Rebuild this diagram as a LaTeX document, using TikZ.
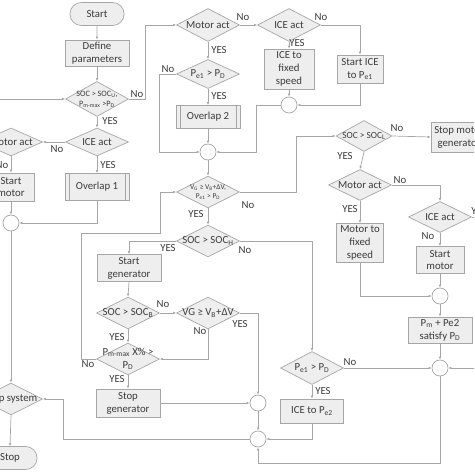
\documentclass[tikz,border=0pt]{standalone}
\usepackage{fontspec}
\setmainfont{Carlito}
\usetikzlibrary{shapes.geometric,shapes.misc,arrows.meta}
\definecolor{boxfill}{HTML}{EEEEEE}
\definecolor{boxline}{HTML}{A6A6A6}
\definecolor{flowline}{HTML}{A6A6A6}
\definecolor{inktext}{HTML}{3C3C3C}
\newdimen\px
\px=0.3mm

\begin{document}
\begin{tikzpicture}[x=0.3mm, y=-0.3mm,
  every node/.style={text=inktext, font=\fontsize{9.2}{11}\selectfont},
  procbox/.style={rectangle, draw=boxline, fill=boxfill, align=center, minimum width=64\px, minimum height=26\px, inner sep=1pt, line width=0.6pt},
  overlap/.style={procbox, path picture={\draw[boxline, line width=0.6pt] ([xshift=4\px]path picture bounding box.north west) -- ([xshift=4\px]path picture bounding box.south west) ([xshift=-4\px]path picture bounding box.north east) -- ([xshift=-4\px]path picture bounding box.south east);}},
  terminal/.style={rounded rectangle, draw=boxline, fill=boxfill, minimum width=62\px, minimum height=23\px, line width=0.6pt},
  decision/.style={diamond, aspect=2, draw=boxline, fill=boxfill, align=center, inner sep=-5pt, minimum width=63\px, minimum height=32\px, line width=0.6pt},
  junction/.style={circle, draw=boxline, fill=white, minimum size=16\px, inner sep=0pt, line width=0.6pt},
  flow/.style={draw=flowline, line width=0.6pt, -{Latex[length=2.6pt, width=2.2pt]}},
  yesno/.style={inner sep=0pt}
]
\useasboundingbox (0,0) rectangle (474,474);
\clip (0,0) rectangle (474,474);

% left column
\node (start) [terminal] at (97,14) {Start};
\node (define) [procbox] at (97,53) {Define\\parameters};
\node (socU) [decision, minimum height=35\px, font=\fontsize{7}{8.5}\selectfont] at (97,99) {SOC > SOC\textsubscript{U},\\P\textsubscript{m-max} >P\textsubscript{D}};
\node (iceA) [decision, minimum height=28\px] at (97,142) {ICE act};
\node (motA) [decision, minimum height=28\px] at (11,142) {Motor act};
\node (stmotA) [procbox, minimum width=46\px, minimum height=28\px] at (11,187) {Start\\motor};
\node (ovl1) [overlap, minimum height=27\px] at (97,187) {Overlap 1};
\node (jA) [junction] at (11,223) {};
\node (stopsys) [decision] at (11,399) {Stop system};
\node (stop) [terminal] at (10,458) {Stop};

% middle column
\node (motB) [decision, minimum height=33\px] at (208,25) {Motor act};
\node (pe1B) [decision, minimum height=29\px] at (208,74) {P\textsubscript{e1} > P\textsubscript{D}};
\node (ovl2) [overlap, minimum height=23\px] at (208,117) {Overlap 2};
\node (jB) [junction] at (208,152) {};
\node (iceB) [decision, minimum height=33\px] at (289,25) {ICE act};
\node (icefix) [procbox, minimum width=50\px, minimum height=40\px] at (289,69) {ICE to\\fixed\\speed};
\node (jC) [junction] at (289,105) {};
\node (stice) [procbox, minimum width=46\px, minimum height=28\px] at (360,69) {Start ICE\\to P\textsubscript{e1}};
\node (vgA) [decision, font=\fontsize{6.3}{7.8}\selectfont] at (208,192) {V\textsubscript{G} ≥ V\textsubscript{B}+ΔV,\\P\textsubscript{e1} > P\textsubscript{D}};
\node (socH) [decision] at (208,241) {SOC > SOC\textsubscript{H}};
\node (stgen) [procbox, minimum height=27\px] at (129,268) {Start\\generator};
\node (socB) [decision] at (128,313) {SOC > SOC\textsubscript{B}};
\node (vgB) [decision] at (208,313) {VG ≥ V\textsubscript{B}+ΔV};
\node (pmax) [decision] at (128,359) {P\textsubscript{m-max} X\% >\\P\textsubscript{D}};
\node (spgen) [procbox, minimum height=28\px] at (128,403) {Stop\\generator};
\node (jD) [junction] at (258,403) {};
\node (jE) [junction] at (258,439) {};
\node (pe1C) [decision, minimum height=33\px] at (312,368) {P\textsubscript{e1} > P\textsubscript{D}};
\node (icepe2) [procbox, minimum width=63\px, minimum height=24\px] at (312,411) {ICE to P\textsubscript{e2}};

% right column
\node (socL) [decision, minimum width=56\px, minimum height=31\px, font=\fontsize{8}{9.5}\selectfont] at (364,136) {SOC > SOC\textsubscript{L}};
\node (stopmg) [procbox, minimum width=56\px, minimum height=30\px] at (459,137) {Stop motor\\generator};
\node (motC) [decision, minimum height=31\px] at (360,185) {Motor act};
\node (motfix) [procbox, minimum width=47\px, minimum height=39\px] at (360,243) {Motor to\\fixed\\speed};
\node (iceC) [decision, minimum height=31\px] at (440,217) {ICE act};
\node (stmotC) [procbox, minimum width=48\px, minimum height=27\px] at (440,260) {Start\\motor};
\node (jF) [junction] at (440,296) {};
\node (satis) [procbox, minimum height=26\px] at (440,330) {P\textsubscript{m} + Pe2\\satisfy P\textsubscript{D}};
\node (jG) [junction] at (440,368) {};

% connectors, left
\draw[flow] (start) -- (define);
\draw[flow] (define) -- (socU);
\draw[flow] (socU.south) -- (iceA.north);
\draw[flow] (socU.east) -- ++(16,0) |- (motB.west);
\draw[flow] (iceA.west) -- (motA.east);
\draw[flow] (iceA.south) -- (ovl1.north);
\draw[flow] (motA.south) -- (stmotA.north);
\draw[flow] (motA.west) -- ++(-20,0) |- (socU.west);
\draw[flow] (stmotA.south) -- (jA.north);
\draw[flow] (ovl1.south) |- (jA.east);
\draw[flow] (jA.south) -- (stopsys.north);
\draw[flow] (stopsys.south) -- (stop.north);

% connectors, middle
\draw[flow] (motB.east) -- (iceB.west);
\draw[flow] (motB.south) -- (pe1B.north);
\draw[flow] (pe1B.west) -- ++(-17,0) |- (jB.west);
\draw[flow] (pe1B.south) -- (ovl2.north);
\draw[flow] (ovl2.south) -- (jB.north);
\draw[flow] (iceB.south) -- (icefix.north);
\draw[flow] (icefix.south) -- (jC.north);
\draw[flow] (iceB.east) -| (stice.north);
\draw[flow] (stice.south) |- (jC.east);
\draw[flow] (jC.west) -- ++(-24,0) |- (jB.east);
\draw[flow] (jB.south) -- (vgA.north);
\draw[flow] (vgA.east) -- ++(56,0) |- (socL.west);
\draw[flow] (vgA.south) -- (socH.north);
\draw[flow] (socH.west) -| (stgen.north);
\draw[flow] (socH.east) -| (pe1C.north);
\draw[flow] (stgen.south) -- (socB.north);
\draw[flow] (socB.east) -- (vgB.west);
\draw[flow] (socB.south) -- (pmax.north);
\draw[flow] (vgB.south) |- (pmax.east);
\draw[flow] (vgB.east) -| (jD.north);
\draw[flow] (pmax.west) -- ++(-15,0) |- (160,233) |- (vgA.west);
\draw[flow] (pmax.south) -- (spgen.north);
\draw[flow] (spgen.east) -- (jD.west);
\draw[flow] (jD.south) -- (jE.north);
\draw[flow] (jE.west) -- ++(-186,0) |- (stopsys.east);
\draw[flow] (pe1C.east) -- (jG.west);
\draw[flow] (pe1C.south) -- (icepe2.north);
\draw[flow] (icepe2.south) |- (jE.east);

% connectors, right
\draw[flow] (socL.east) -- (stopmg.west);
\draw[flow] (socL.south) -- (motC.north);
\draw[flow] (motC.south) -- (motfix.north);
\draw[flow] (motC.east) -| (iceC.north);
\draw[flow] (iceC.south) -- (stmotC.north);
\draw[flow] (iceC.east) -- ++(30,0) |- (jG.east);
\draw[flow] (motfix.south) |- (jF.west);
\draw[flow] (stmotC.south) -- (jF.north);
\draw[flow] (jF.south) -- (satis.north);
\draw[flow] (satis.south) -- (jG.north);
\draw[flow] (jG.south) -- ++(0,87) -| (jE.south);

% YES / No labels
\node (socUno) [yesno] at (137,94) {No};
\node (socUyes) [yesno] at (110,121) {YES};
\node (iceAno) [yesno] at (57,149) {No};
\node (iceAyes) [yesno] at (108,165) {YES};
\node (motAno) [yesno] at (2,165) {No};
\node (motBno) [yesno] at (243,17) {No};
\node (motByes) [yesno] at (219,50) {YES};
\node (pe1Bno) [yesno] at (168,69) {No};
\node (pe1Byes) [yesno] at (219,96) {YES};
\node (iceBno) [yesno] at (321,17) {No};
\node (iceByes) [yesno] at (297,43) {YES};
\node (vgAno) [yesno] at (248,205) {No};
\node (vgAyes) [yesno] at (196,214) {YES};
\node (socHyes) [yesno] at (168,248) {YES};
\node (socHno) [yesno] at (245,250) {No};
\node (socBno) [yesno] at (163,304) {No};
\node (socByes) [yesno] at (117,337) {YES};
\node (vgBno) [yesno] at (200,331) {No};
\node (vgByes) [yesno] at (240,324) {YES};
\node (pmaxno) [yesno] at (88,364) {No};
\node (pmaxyes) [yesno] at (117,379) {YES};
\node (pe1Cno) [yesno] at (350,362) {No};
\node (pe1Cyes) [yesno] at (323,391) {YES};
\node (socLno) [yesno] at (397,128) {No};
\node (socLyes) [yesno] at (345,156) {YES};
\node (motCno) [yesno] at (400,180) {No};
\node (motCyes) [yesno] at (350,209) {YES};
\node (iceCno) [yesno] at (428,236) {No};
\node (iceCyes) [yesno] at (479,211) {YES};

\end{tikzpicture}
\end{document}
